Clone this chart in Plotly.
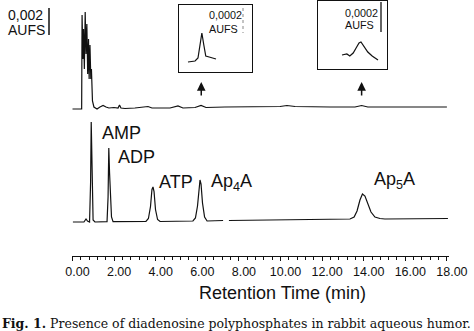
import plotly.graph_objects as go

# ---------------- data ----------------
# Lower chromatogram: standards (retention time in min, relative absorbance)
lower_t = [0.02, 0.55, 0.65, 0.72, 0.82, 0.87, 0.90, 0.94, 0.99, 1.08,
           1.66, 1.71, 1.745, 1.78, 1.83, 1.875, 1.95,
           3.53, 3.65, 3.75, 3.82, 3.87, 3.92, 3.99, 4.09, 4.21,
           5.79, 5.91, 6.01, 6.08, 6.13, 6.18, 6.25, 6.35, 6.47, 7.24,
           None,
           7.52, 13.34, 13.54, 13.68, 13.82, 13.94, 14.06, 14.21, 14.35,
           14.54, 14.78, 15.02, 18.05]
lower_v = [0, 0, 3, 1, 0, 40, 100, 40, 2, 0,
           0.3, 25, 74, 50, 30, 5, 0.3,
           0.5, 3.5, 15.5, 32.5, 35, 30.5, 12.5, 2.5, 0.5,
           1, 4, 16, 37, 42, 38, 19, 5, 1, 1.5,
           None,
           1.5, 3, 5, 11, 22, 28, 26, 18, 10,
           5, 3.5, 3, 3.5]

# Upper chromatogram: rabbit aqueous humor
upper_t = [0.0, 0.44, 0.46, 0.50, 0.53, 0.57, 0.61, 0.65, 0.69, 0.73,
           0.77, 0.80, 0.84, 0.88, 0.91, 0.96, 1.03, 1.18, 1.32, 1.47,
           1.61, 1.75, 1.99, 2.19, 2.26, 2.33, 2.52, 3.0, 3.63, 3.82,
           4.69, 5.07, 5.31, 5.89, 6.18, 6.42, 7.33, 8.05, 9.01, 9.98,
           10.31, 10.7, 12.38, 13.58, 13.9, 14.2, 15.75, 18.0]
upper_v = [0, 0, 94, 50, 80, 40, 97, 55, 85, 35,
           70, 30, 64, 30, 40, 8, 2, 0, 2, 3.5,
           2, 1, 1.5, 1, 4, 1, 0.5, 1, 2.5, 1,
           1, 3, 1, 1.5, 3.5, 1.5, 2, 2, 2, 2.5,
           3.5, 2.5, 2, 2, 3.5, 2, 2, 2]

# Insets (expanded view of the Ap4A and Ap5A regions of the upper trace)
inset1_t = [5.845, 5.99, 6.05, 6.09, 6.13, 6.17, 6.21, 6.28, 6.34, 6.42]
inset1_v = [10, 11, 14, 27, 39, 27, 16, 15, 14, 13]
inset2_t = [13.58, 13.68, 13.74, 13.81, 13.87, 13.93, 13.97, 14.03, 14.11, 14.20, 14.32]
inset2_v = [14, 15, 13, 16, 21, 26, 27, 23, 17, 13, 9]

peak_labels = ["AMP", "ADP", "ATP", "Ap<sub>4</sub>A", "Ap<sub>5</sub>A"]
peak_label_t = [1.32, 2.09, 4.06, 6.56, 14.4]
arrow_t = [6.19, 13.9]
tick_vals = [0, 2, 4, 6, 8, 10, 12, 14, 16, 18]

# ---------------- layout helpers ----------------
L, R, T, B = 72, 25, 0, 75
W, H = 474, 331
PW, PH = W - L - R, H - T - B
LOWER_OFF, UPPER_OFF = 34, 147


def px(x):
    return (x - L) / PW


def py(y):
    return (T + PH - y) / PH


SANS = "Liberation Sans, Arial, sans-serif"
INK = "#111111"

fig = go.Figure()
fig.add_trace(go.Scatter(x=lower_t, y=[None if v is None else v + LOWER_OFF for v in lower_v],
                         mode="lines", line=dict(color=INK, width=1.2),
                         connectgaps=False, hoverinfo="skip"))
fig.add_trace(go.Scatter(x=upper_t, y=[v + UPPER_OFF for v in upper_v],
                         mode="lines", line=dict(color=INK, width=1.2), hoverinfo="skip"))
fig.add_trace(go.Scatter(x=inset1_t, y=inset1_v, xaxis="x2", yaxis="y2",
                         mode="lines", line=dict(color=INK, width=1.2), hoverinfo="skip"))
fig.add_trace(go.Scatter(x=inset2_t, y=inset2_v, xaxis="x3", yaxis="y3",
                         mode="lines", line=dict(color=INK, width=1.2), hoverinfo="skip"))

label_y = [123, 99, 74, 74, 76]
annotations = []
for txt_, t, yy in zip(peak_labels, peak_label_t, label_y):
    annotations.append(dict(x=t, y=yy, xref="x", yref="y", text=txt_, showarrow=False,
                            xanchor="left", yanchor="middle",
                            font=dict(family=SANS, size=18, color=INK)))

for t in arrow_t:
    annotations.append(dict(x=t, y=UPPER_OFF + 27, xref="x", yref="y", text="",
                            showarrow=True, arrowhead=2, arrowsize=1.15, arrowwidth=1.5,
                            arrowcolor=INK, ax=0, ay=15))


def txt(x, y, s, size, anchor="left", family=SANS):
    annotations.append(dict(x=px(x), y=py(y), xref="paper", yref="paper", text=s,
                            showarrow=False, xanchor=anchor, yanchor="middle",
                            font=dict(family=family, size=size, color=INK)))


txt(6, 15, "0,002", 14)
txt(6, 30, "AUFS", 14)
txt(207, 15, "0,0002", 10.8)
txt(207, 29, "AUFS", 10.8)
txt(343, 13, "0,0002", 10.8)
txt(343, 25, "AUFS", 10.8)
txt(282, 293, "Retention Time (min)", 18, anchor="center")

annotations.append(dict(x=px(0), y=py(323), xref="paper", yref="paper",
                        text="<b>Fig. 1.</b> Presence of diadenosine polyphosphates in rabbit aqueous humor.",
                        showarrow=False, xanchor="left", yanchor="middle",
                        font=dict(family="DejaVu Serif, serif", size=12.5, color=INK)))

shapes = [
    dict(type="line", xref="paper", yref="paper", x0=px(49), x1=px(49), y0=py(8), y1=py(35),
         line=dict(color=INK, width=1.5)),
    dict(type="line", xref="paper", yref="paper", x0=px(243), x1=px(243), y0=py(8), y1=py(33),
         line=dict(color="#888888", width=1, dash="dot")),
    dict(type="line", xref="paper", yref="paper", x0=px(381), x1=px(381), y0=py(2), y1=py(32),
         line=dict(color=INK, width=1.3)),
]

inset_axis = dict(showline=True, mirror=True, linecolor=INK, linewidth=1.4,
                  ticks="", showticklabels=False, showgrid=False, zeroline=False)

fig.update_layout(
    width=W, height=H, margin=dict(l=L, r=R, t=T, b=B),
    paper_bgcolor="white", plot_bgcolor="white", showlegend=False,
    xaxis=dict(range=[-0.5 / 20.8, PW / 20.8 - 0.5 / 20.8], domain=[0, 1],
               showline=True, linecolor=INK, linewidth=1.2, showgrid=False, zeroline=False,
               ticks="outside", ticklen=4, tickcolor=INK, tickwidth=1,
               tickvals=tick_vals, tickformat=".2f", ticklabelshift=5,
               tickfont=dict(family=SANS, size=12.5, color=INK),
               minor=dict(dtick=0.4, ticks="outside", ticklen=2.5, tickcolor=INK, showgrid=False)),
    yaxis=dict(range=[0, PH], visible=False, domain=[0, 1]),
    xaxis2=dict(inset_axis, domain=[px(179), px(252)], range=[5.66, 7.16], anchor="y2"),
    yaxis2=dict(inset_axis, domain=[py(72), py(5)], range=[0, 67], anchor="x2"),
    xaxis3=dict(inset_axis, domain=[px(318), px(387)], range=[13.087, 14.505], anchor="y3"),
    yaxis3=dict(inset_axis, domain=[py(69), py(1)], range=[0, 68], anchor="x3"),
    annotations=annotations, shapes=shapes,
)

fig.write_html("out.html")
